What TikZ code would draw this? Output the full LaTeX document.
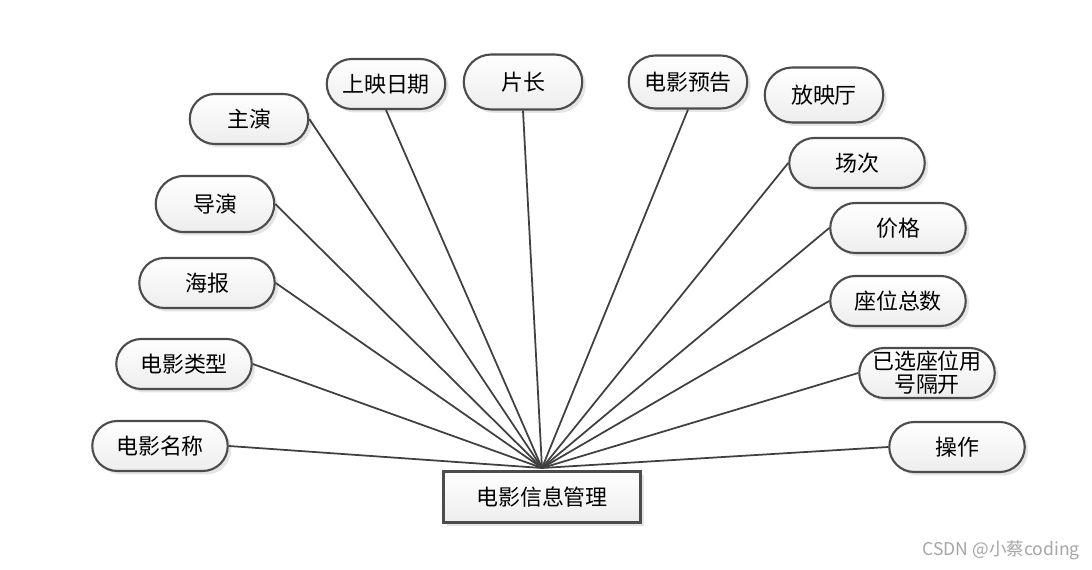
\documentclass[tikz,border=0pt]{standalone}
\usepackage{fontspec}
\setmainfont{Noto Sans CJK SC}
\usetikzlibrary{shapes.misc,shadows}
\tikzset{
  attr/.style={rounded rectangle,draw=black!70,line width=1.2pt,top color=white,bottom color=gray!14,
    minimum width=2.44cm,minimum height=1cm,inner sep=1pt,align=center,
    drop shadow={fill=gray!40,shadow xshift=0.07cm,shadow yshift=-0.07cm}},
  ent/.style={rectangle,draw=black!70,line width=1.2pt,top color=white,bottom color=gray!14,
    minimum width=3.94cm,minimum height=1.02cm,
    drop shadow={fill=gray!40,shadow xshift=0.07cm,shadow yshift=-0.07cm}},
  link/.style={draw=black!75,line width=1pt}
}
\begin{document}
\begin{tikzpicture}[x=0.02cm,y=-0.02cm,font=\fontsize{12.5}{14}\selectfont]
  \useasboundingbox[fill=white] (0,0) rectangle (1092,570);
  \coordinate (hub) at (542,468);
  \node[ent] (film) at (542,497) {电影信息管理};
  \node[attr] (actor) at (249,119) {主演};
  \node[attr,minimum height=1cm] (date) at (386,84) {上映日期};
  \node[attr,minimum height=1.1cm] (length) at (523,82) {片长};
  \node[attr,minimum height=1.06cm] (trailer) at (688,82) {电影预告};
  \node[attr,minimum height=1.1cm] (hall) at (824,95) {放映厅};
  \node[attr,minimum width=2.78cm] (show) at (857,163) {场次};
  \node[attr,minimum width=2.78cm] (price) at (898,228) {价格};
  \node[attr,minimum width=2.78cm] (seats) at (898,301) {座位总数};
  \node[attr,minimum width=2.78cm,font=\fontsize{12.5}{13}\selectfont] (chosen) at (927,373) {已选座位用\\号隔开};
  \node[attr,minimum width=2.78cm] (op) at (957,447) {操作};
  \node[attr,minimum height=1.12cm] (director) at (215,204) {导演};
  \node[attr,minimum width=2.78cm] (poster) at (207,283) {海报};
  \node[attr,minimum width=2.78cm] (genre) at (184,364) {电影类型};
  \node[attr,minimum width=2.78cm] (name) at (160,446) {电影名称};
  \foreach \n in {actor,director,poster,genre,name}
    \draw[link] (hub) -- (\n.east);
  \foreach \n in {show,price,seats,chosen,op}
    \draw[link] (hub) -- (\n.west);
  \foreach \n in {date,length,trailer}
    \draw[link] (hub) -- (\n.south);
  \node[anchor=south east,text=gray!70,font=\fontsize{10}{12}\selectfont] (mark) at (1086,566) {CSDN @小蔡coding};
\end{tikzpicture}
\end{document}
